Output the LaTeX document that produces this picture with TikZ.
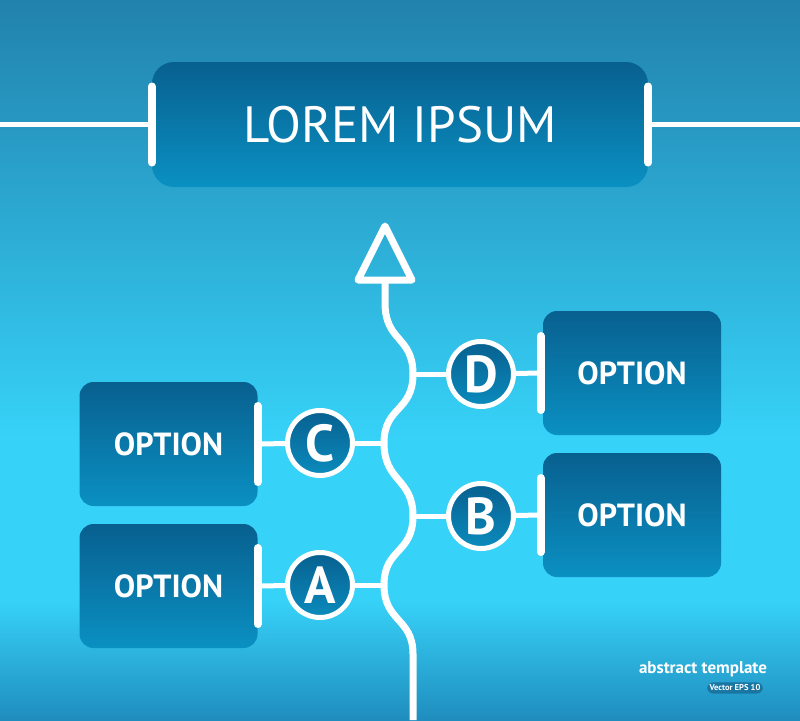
\documentclass[tikz,border=0pt]{standalone}
\usepackage{fontspec}
\setmainfont{PT Sans}
\usetikzlibrary{positioning}

\definecolor{bgtop}{HTML}{2182AD}
\definecolor{bgmid}{HTML}{37D2F8}
\definecolor{bgbot}{HTML}{1F8DBE}
\definecolor{boxtop}{HTML}{08608F}
\definecolor{boxbot}{HTML}{0A90C2}
\definecolor{pillfill}{HTML}{1976A3}

\tikzset{
  headbox/.style={rounded corners=22pt, top color=boxtop, bottom color=boxbot,
    minimum width=496pt, minimum height=125pt, text=white,
    font=\fontsize{51}{51}\selectfont},
  optbox/.style={rounded corners=14pt, top color=boxtop, bottom color=boxbot,
    minimum width=178pt, minimum height=124pt, text=white,
    font=\bfseries\fontsize{32}{32}\selectfont},
  letterdot/.style={circle, draw=white, line width=5pt, top color=boxtop, bottom color=boxbot!90!boxtop,
    minimum size=65pt, inner sep=0pt, text=white,
    font=\bfseries\fontsize{52}{52}\selectfont},
  wire/.style={white, line width=5pt},
  endbar/.style={white, line width=8pt, line cap=round},
  wave/.style={white, line width=7pt, line join=round},
}

\begin{document}
\begin{tikzpicture}[x=1pt, y=-1pt]

  %% ════ 背景 ════
  \shade[top color=bgtop, bottom color=bgmid] (0,0) rectangle (800,440);
  \fill[bgmid] (0,439) rectangle (800,601);
  \shade[top color=bgmid, bottom color=bgbot] (0,600) rectangle (800,720);

  %% ════ 标题框 ════
  \node[headbox] (head) at (400,124.5) {LOREM IPSUM};
  \coordinate (edgeL) at (0,124.5);
  \coordinate (edgeR) at (800,124.5);
  \draw[wire] (edgeL) -- (head.west);
  \draw[wire] (head.east) -- (edgeR);
  \draw[endbar] ([shift={(0,-38)}]head.west) -- ([shift={(0,38)}]head.west);
  \draw[endbar] ([shift={(0,-38)}]head.east) -- ([shift={(0,38)}]head.east);

  %% ════ 选项框 ════
  \node[optbox] (optD) at (632,373) {OPTION};
  \node[optbox] (optB) at (632,515) {OPTION};
  \node[optbox] (optC) at (168.5,444) {OPTION};
  \node[optbox] (optA) at (168.5,586) {OPTION};

  %% ════ 字母圆 ════
  \node[letterdot] (dotD) at (481,374) {D};
  \node[letterdot] (dotB) at (481,516) {B};
  \node[letterdot] (dotC) at (320,443) {C};
  \node[letterdot] (dotA) at (320,585) {A};

  %% ════ 波浪主线 ════
  \coordinate (tip)  at (385,226);
  \coordinate (baseL) at (358,280);
  \coordinate (baseR) at (412,280);
  \coordinate (stem) at (385,303);
  \coordinate (kD) at (413,374);
  \coordinate (kC) at (384,443);
  \coordinate (kB) at (413,516);
  \coordinate (kA) at (384,585);
  \coordinate (kE) at (413,654);
  \coordinate (foot) at (413,720);

  \draw[wave] (tip) -- (baseR) -- (baseL) -- cycle;
  \draw[wave] (385,280) -- (stem)
    .. controls (385,342) and (413,336) .. (kD)
    .. controls (413,412) and (384,406) .. (kC)
    .. controls (384,482) and (413,478) .. (kB)
    .. controls (413,554) and (384,548) .. (kA)
    .. controls (384,622) and (413,618) .. (kE)
    -- (foot);

  %% ════ 连接线 ════
  \draw[wire] (kD) -- (dotD);
  \draw[wire] (dotD) -- (optD.west);
  \draw[wire] (kB) -- (dotB);
  \draw[wire] (dotB) -- (optB.west);
  \draw[wire] (kC) -- (dotC);
  \draw[wire] (dotC) -- (optC.east);
  \draw[wire] (kA) -- (dotA);
  \draw[wire] (dotA) -- (optA.east);

  % 框边的短竖条
  \draw[endbar] ([shift={(-2,-37)}]optD.west) -- ([shift={(-2,37)}]optD.west);
  \draw[endbar] ([shift={(-2,-37)}]optB.west) -- ([shift={(-2,37)}]optB.west);
  \draw[endbar] ([shift={(0,-38)}]optC.east) -- ([shift={(0,38)}]optC.east);
  \draw[endbar] ([shift={(0,-38)}]optA.east) -- ([shift={(0,38)}]optA.east);

  %% ════ 右下角说明 ════
  \node[text=white, font=\bfseries\fontsize{17}{17}\selectfont] (tagline) at (703,669) {abstract template};
  \node[fill=pillfill, rounded corners=6pt, text=white, inner sep=2.5pt,
    font=\bfseries\fontsize{8.5}{8.5}\selectfont] (eps) at (735,688) {Vector EPS 10};

  \pgfresetboundingbox
  \path[use as bounding box] (0,0) rectangle (800,720);
\end{tikzpicture}
\end{document}
